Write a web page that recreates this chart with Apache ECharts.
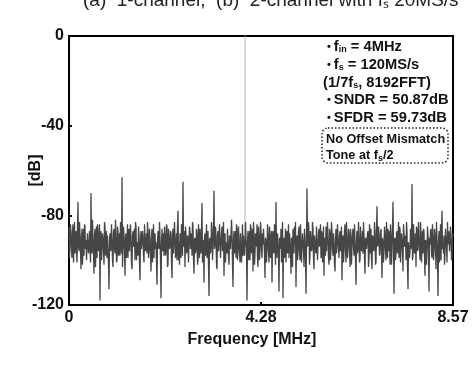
<!DOCTYPE html>
<html>
<head>
<meta charset="utf-8">
<script src="https://cdn.jsdelivr.net/npm/echarts@6/dist/echarts.min.js"></script>
<style>
html, body { margin: 0; padding: 0; background: #fff; }
#chartDiv { width: 474px; height: 372px; }
</style>
</head>
<body>
<div id="chartDiv"></div>
<script>
// 初始化图表
var myChart = echarts.init(document.getElementById('chartDiv'));

// 频率轴
var fMax = 8.57;
var xTickLabels = ['0', '4.28', '8.57'];

// 信号音
var toneFreq = 3.93;
var toneLevel = 0;
var toneFloor = -92;

// 噪底 A: 每像素一个点
var noiseA = [
    -85, -94, -88, -99, -84, -92, -97, -87, -101, -74,
    -96, -89, -104, -86, -93, -98, -85, -91, -100, -88,
    -95, -87, -70, -97, -90, -106, -86, -94, -99, -88,
    -92, -118, -87, -96, -90, -102, -85, -93, -99, -89,
    -113, -88, -95, -91, -103, -86, -97, -90, -100, -87,
    -94, -98, -86, -63, -95, -89, -107, -88, -93, -99,
    -86, -96, -91, -104, -87, -94, -100, -85, -92, -98,
    -89, -109, -87, -95, -90, -101, -84, -93, -97, -88,
    -96, -91, -105, -86, -94, -99, -88, -92, -111, -87,
    -95, -90, -117, -86, -93, -98, -89, -96, -85, -102,
    -90, -94, -88, -108, -86, -97, -91, -95, -100, -78,
    -92, -88, -99, -86, -65, -94, -103, -89, -96, -90,
    -101, -87, -93, -98, -85, -106, -90, -95, -88, -100,
    -92, -86, -97, -74.5, -91, -110, -88, -94, -99, -87,
    -116, -90, -95, -86, -100, -69, -93, -89, -104, -87,
    -96, -91, -99, -85, -94, -107, -88, -92, -97, -86,
    -102, -90, -95, -88, -112, -87, -93, -99, -86, -96,
    -91, -101, -88, -94, -98, -89, -93, -90, -118, -87,
    -95, -100, -86, -93, -105, -89, -97, -91, -84, -103,
    -90, -96, -87, -99, -93, -86, -108, -92, -95, -88,
    -101, -89, -94, -110, -87, -97, -91, -74, -99, -88,
    -114, -92, -86, -96, -117, -90, -94, -101, -87, -95,
    -99, -88, -106, -91, -86, -97, -93, -112, -89, -96,
    -85, -100, -92, -95, -88, -103, -90, -115, -68, -93,
    -87, -98, -91, -95, -86, -104, -89, -97, -92, -100,
    -86, -94, -99, -88, -93, -107, -90, -85, -96, -91,
    -102, -88, -95, -87, -98, -92, -105, -86, -94, -90,
    -99, -87, -93, -109, -89, -96, -84, -101, -91, -95,
    -88, -103, -90, -94, -86, -98, -92, -111, -87, -95,
    -90, -100, -85, -93, -97, -89, -106, -91, -95, -87,
    -99, -92, -86, -104, -90, -95, -88, -101, -76, -93,
    -89, -97, -86, -108, -92, -95, -88, -100, -91, -86,
    -96, -102, -89, -94, -74, -115, -90, -97, -87, -93,
    -99, -86, -95, -91, -105, -88, -94, -100, -87, -113,
    -92, -96, -89, -66, -98, -90, -94, -103, -86, -95,
    -91, -100, -88, -94, -97, -87, -107, -92, -95, -89,
    -114, -93, -86, -99, -90, -96, -88, -104, -91, -116,
    -87, -95, -100, -78, -92, -89, -97, -86, -101, -93,
    -88, -96, -90, -99, -89
];

// 噪底 B: 两像素之间的点
var noiseB = [
    -99, -84, -95, -87, -101, -83, -88, -97, -85, -94,
    -83, -96, -89, -102, -86, -84, -95, -100, -88, -97,
    -87, -101, -94, -82, -97, -89, -103, -85, -84, -96,
    -84, -92, -100, -88, -95, -83, -98, -87, -89, -102,
    -91, -96, -84, -100, -88, -94, -82, -101, -85, -98,
    -88, -83, -97, -103, -85, -95, -90, -99, -84, -87,
    -96, -84, -102, -89, -94, -86, -83, -100, -97, -85,
    -101, -91, -95, -87, -98, -84, -96, -88, -83, -99,
    -86, -97, -90, -101, -84, -89, -95, -102, -91, -94,
    -83, -100, -93, -96, -88, -85, -98, -84, -103, -86,
    -95, -87, -101, -90, -97, -83, -99, -88, -85, -100,
    -102, -96, -84, -98, -94, -87, -85, -97, -89, -101,
    -85, -95, -88, -83, -100, -91, -97, -86, -102, -84,
    -99, -96, -87, -101, -94, -90, -98, -84, -88, -103,
    -91, -97, -83, -100, -87, -95, -85, -102, -89, -96,
    -84, -99, -88, -96, -83, -90, -101, -94, -86, -98,
    -89, -95, -82, -102, -91, -97, -87, -84, -100, -85,
    -96, -88, -101, -84, -89, -98, -83, -95, -92, -100,
    -87, -84, -97, -86, -83, -102, -88, -94, -99, -85,
    -100, -83, -95, -88, -86, -97, -90, -101, -84, -96,
    -85, -99, -87, -91, -96, -84, -102, -94, -88, -97,
    -90, -95, -101, -83, -92, -99, -86, -89, -97, -84,
    -88, -96, -90, -103, -94, -85, -83, -91, -100, -87,
    -97, -84, -101, -88, -95, -86, -99, -92, -94, -83,
    -102, -87, -96, -83, -99, -89, -95, -85, -100, -88,
    -94, -84, -87, -101, -85, -90, -98, -96, -83, -99,
    -86, -100, -83, -95, -88, -102, -91, -97, -84, -94,
    -89, -96, -85, -90, -101, -87, -95, -83, -99, -86,
    -95, -86, -102, -88, -94, -84, -100, -91, -97, -83,
    -101, -85, -96, -87, -83, -99, -90, -95, -88, -103,
    -84, -97, -100, -89, -96, -83, -102, -87, -94, -85,
    -98, -88, -95, -90, -101, -85, -96, -83, -99, -94,
    -87, -84, -102, -86, -95, -91, -100, -88, -97, -83,
    -85, -101, -88, -96, -84, -94, -89, -83, -103, -92,
    -99, -86, -95, -100, -84, -97, -88, -85, -96, -83,
    -94, -83, -101, -87, -86, -98, -91, -102, -85, -96,
    -90, -87, -97, -84, -100, -86, -95, -83, -99, -92,
    -101, -84, -88, -95, -97, -102, -86, -94, -83, -87,
    -96, -85, -100, -88
];

// 数据点: A 在整像素, B 在半像素
var step = fMax / (noiseA.length - 1);
var noiseData = [];
noiseA.forEach(function (v, i) {
    noiseData.push([i * step, v]);
    if (i < noiseB.length) {
        noiseData.push([(i + 0.5) * step, noiseB[i]]);
    }
});

var FONT = 'Liberation Sans, Arial, sans-serif';
var subRich = {
    dot: { fontSize: 11, fontWeight: 'bold', fontFamily: FONT, color: '#111', padding: [0, 3, 0, 0] },
    sub: { fontSize: 9, fontWeight: 'bold', fontFamily: FONT, color: '#111', padding: [7, 0, 0, 0] }
};
function infoText(top, left, text, size) {
    return {
        type: 'text',
        left: left,
        top: top,
        z: 100,
        style: {
            text: text,
            fill: '#111',
            font: 'bold ' + (size || 14.7) + 'px ' + FONT,
            rich: subRich
        }
    };
}

var option = {
    backgroundColor: '#fff',
    animation: false,
    grid: {
        left: 69,
        right: 21,
        top: 36,
        bottom: 67,
        outerBoundsMode: 'none',
        show: true,
        borderColor: '#000',
        borderWidth: 2,
        backgroundColor: 'transparent'
    },
    xAxis: {
        type: 'value',
        min: 0,
        max: fMax,
        interval: 4.285,
        name: 'Frequency [MHz]',
        nameLocation: 'middle',
        nameGap: 27,
        nameMoveOverlap: false,
        nameTextStyle: {
            fontFamily: FONT, fontWeight: 'bold', fontSize: 16, color: '#111',
            padding: [0, 18, 0, 0]
        },
        axisLine: { show: true, onZero: false, lineStyle: { color: '#000', width: 2 } },
        axisTick: { show: true, inside: true, length: 3, lineStyle: { color: '#000', width: 2 } },
        splitLine: { show: false },
        axisLabel: {
            margin: 5,
            fontFamily: FONT,
            fontWeight: 'bold',
            fontSize: 16,
            color: '#111',
            formatter: function (v) {
                return xTickLabels[Math.round(v / 4.285)];
            }
        }
    },
    yAxis: {
        type: 'value',
        min: -120,
        max: 0,
        interval: 40,
        name: '[dB]',
        nameLocation: 'middle',
        nameGap: 25,
        nameRotate: 90,
        nameMoveOverlap: false,
        nameTextStyle: { fontFamily: FONT, fontWeight: 'bold', fontSize: 16, color: '#111' },
        axisLine: { show: true, onZero: false, lineStyle: { color: '#000', width: 2 } },
        axisTick: { show: true, inside: true, length: 3, lineStyle: { color: '#000', width: 2 } },
        splitLine: { show: false },
        axisLabel: {
            margin: 5,
            fontFamily: FONT,
            fontWeight: 'bold',
            fontSize: 16,
            color: '#111'
        }
    },
    series: [
        {
            type: 'line',
            data: [[toneFreq, toneFloor], [toneFreq, toneLevel]],
            showSymbol: false,
            silent: true,
            z: 1,
            lineStyle: { color: '#b5b5b5', width: 1 }
        },
        {
            type: 'line',
            data: noiseData,
            showSymbol: false,
            silent: true,
            z: 2,
            lineStyle: { color: '#464646', width: 1.3 }
        }
    ],
    graphic: [
        // 顶部被裁掉的标题
        {
            type: 'text',
            left: 83,
            top: -9,
            style: {
                text: '(a)  1-channel,  (b)  2-channel with f\u209b 20MS/s',
                fill: '#222',
                font: '19px ' + FONT
            }
        },
        infoText(39, 327, '{dot|•}f{sub|in} = 4MHz'),
        infoText(57, 327, '{dot|•}f{sub|s} = 120MS/s'),
        infoText(75, 323, '(1/7f{sub|s}, 8192FFT)'),
        infoText(92, 327, '{dot|•}SNDR = 50.87dB'),
        infoText(110, 327, '{dot|•}SFDR = 59.73dB'),
        {
            type: 'rect',
            z: 100,
            shape: { x: 322, y: 128, width: 126, height: 35, r: 6 },
            style: { fill: 'none', stroke: '#222', lineWidth: 1.5, lineDash: [1.5, 2] }
        },
        infoText(133, 326, 'No Offset Mismatch', 12.7),
        infoText(149, 326, 'Tone at f{sub|s}/2', 12.7)
    ]
};
myChart.setOption(option);
</script>
</body>
</html>
